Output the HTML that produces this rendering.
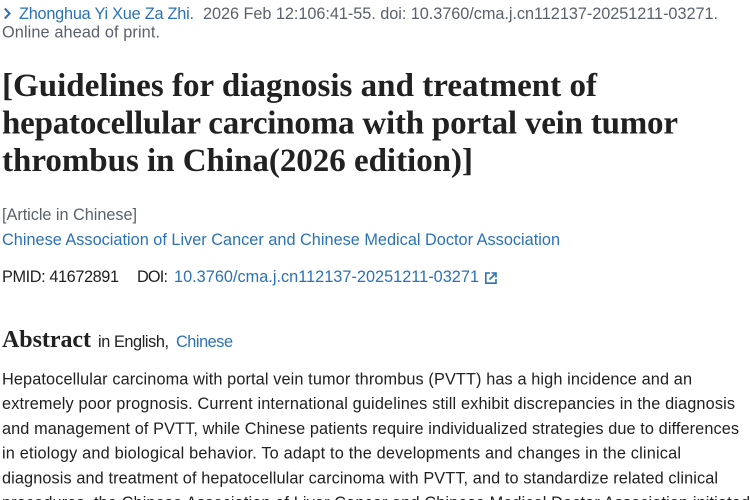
<!DOCTYPE html>
<html>
<head>
<meta charset="utf-8">
<style>
html,body{margin:0;padding:0;background:#fff;width:750px;height:500px;overflow:hidden;}
svg{display:block;}
.s{font-family:"Liberation Sans",Arial,sans-serif;font-size:16.3px;}
.t{font-family:"Liberation Serif","Times New Roman",serif;font-weight:bold;font-size:33px;fill:#212121;}
.d{fill:#212121;}
.g{fill:#5b616b;}
.b{fill:#2a72b5;}
</style>
</head>
<body>
<svg width="750" height="500" viewBox="0 0 750 500" xmlns="http://www.w3.org/2000/svg">
  <rect width="750" height="500" fill="#fff"/>
  <!-- chevron -->
  <polyline points="4.8,8.5 9.6,13.5 4.8,18.5" fill="none" stroke="#2a72b5" stroke-width="2"/>
  <text class="s b" x="19" y="19" textLength="175">Zhonghua Yi Xue Za Zhi.</text>
  <text class="s g" x="203" y="19" textLength="515">2026 Feb 12:106:41-55. doi: 10.3760/cma.j.cn112137-20251211-03271.</text>
  <text class="s g" x="2" y="37.5" textLength="158">Online ahead of print.</text>

  <!-- title -->
  <text class="t" x="2" y="96" textLength="595">[Guidelines for diagnosis and treatment of</text>
  <text class="t" x="2" y="133.5" textLength="676">hepatocellular carcinoma with portal vein tumor</text>
  <text class="t" x="2" y="171" textLength="471">thrombus in China(2026 edition)]</text>

  <!-- meta -->
  <text class="s g" x="2" y="220" textLength="135">[Article in Chinese]</text>
  <text class="s b" x="2" y="245" textLength="558">Chinese Association of Liver Cancer and Chinese Medical Doctor Association</text>
  <text class="s d" x="2" y="282" textLength="117">PMID: 41672891</text>
  <text class="s d" x="137" y="282" textLength="31">DOI:</text>
  <text class="s b" x="174" y="282" textLength="305">10.3760/cma.j.cn112137-20251211-03271</text>
  <!-- external link icon -->
  <g fill="none" stroke="#2a72b5" stroke-width="1.6">
    <path d="M490,273 H485.8 V283.2 H496 V279"/>
    <path d="M489.5,279.5 L495.5,273.5"/>
    <path d="M491.5,273 H496 V277.5"/>
  </g>

  <!-- abstract heading -->
  <text x="2" y="347" textLength="89" style="font-family:'Liberation Serif','Times New Roman',serif;font-weight:bold;font-size:24px;fill:#212121;">Abstract</text>
  <text class="s d" x="98" y="347" textLength="71">in English,</text>
  <text class="s b" x="176" y="347" textLength="57">Chinese</text>

  <!-- abstract text -->
  <text class="s d" x="2" y="384.3" textLength="690">Hepatocellular carcinoma with portal vein tumor thrombus (PVTT) has a high incidence and an</text>
  <text class="s d" x="2" y="409" textLength="733">extremely poor prognosis. Current international guidelines still exhibit discrepancies in the diagnosis</text>
  <text class="s d" x="2" y="433.8" textLength="737">and management of PVTT, while Chinese patients require individualized strategies due to differences</text>
  <text class="s d" x="2" y="458.5" textLength="679">in etiology and biological behavior. To adapt to the developments and changes in the clinical</text>
  <text class="s d" x="2" y="483.3" textLength="716">diagnosis and treatment of hepatocellular carcinoma with PVTT, and to standardize related clinical</text>
  <text class="s d" x="2" y="508" textLength="748">procedures, the Chinese Association of Liver Cancer and Chinese Medical Doctor Association initiated</text>
</svg>
</body>
</html>
